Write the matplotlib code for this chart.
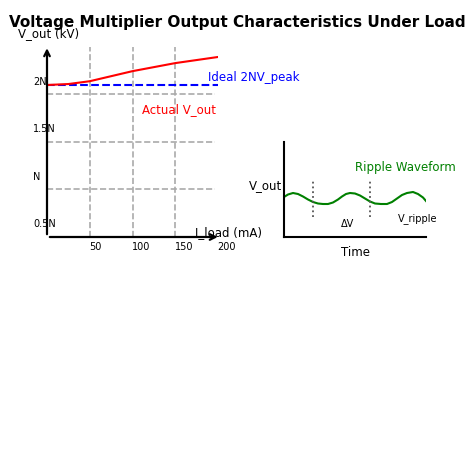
import matplotlib
matplotlib.use("Agg")
import matplotlib.pyplot as plt

# Main chart: load current (mA) vs output voltage (units of N)
grid_x_ma = [50, 100, 150]
grid_y_n = [0.6, 1.18, 1.776]
tick_x_labels = ["50", "100", "150", "200"]
tick_x_ma = [57, 110, 160, 210]
tick_y_labels = ["2N", "1.5N", "N", "0.5N"]
tick_y_n = [1.92, 1.34, 0.745, 0.16]
ideal_n = 1.888
actual_ma = [0, 25, 50, 100, 150, 200]
actual_n = [1.888, 1.9, 1.935, 2.06, 2.16, 2.236]

# Ripple waveform (relative time, relative voltage)
ripple_t = [0, 4, 9, 14, 19, 24, 29, 34, 39, 44, 49, 54, 58, 62, 66, 71, 76, 81, 86, 91,
            97, 103, 108, 113, 118, 123, 129, 134, 139, 142]
ripple_v = [1.5, 4, 5.5, 4.5, 2, -1, -3.5, -5, -5.5, -5.5, -4, -1, 2, 4.5, 5.5, 5, 3, 0, -3, -5,
            -5.5, -5.5, -3.5, 0, 3.5, 5.5, 6.5, 4.5, 1, -2.5]

fig = plt.figure(figsize=(4.74, 4.74), dpi=100)

# main axes: x 47..218 px for 0..200 mA ; y 237..47 px for 0..2.36 N
ax = fig.add_axes([47/474, (474-237)/474, (218-47)/474, (237-47)/474])
ax.set_xlim(0, 200); ax.set_ylim(0, 2.36)
ax.axis("off")
for g in grid_x_ma:
    ax.plot([g, g], [0, 2.36], ls="--", color="#aaaaaa", lw=1.2)
for g in grid_y_n:
    ax.plot([0, 196], [g, g], ls="--", color="#aaaaaa", lw=1.2)
ax.plot([0, 200], [ideal_n, ideal_n], ls="--", color="blue", lw=1.5)
ax.plot(actual_ma, actual_n, color="red", lw=1.5)
ax.annotate("", xy=(0, 2.38), xytext=(0, 0),
            arrowprops=dict(arrowstyle="->", lw=1.6, color="black"), annotation_clip=False)
ax.annotate("", xy=(203, 0), xytext=(0, 0),
            arrowprops=dict(arrowstyle="->", lw=1.6, color="black"), annotation_clip=False)
for t, l in zip(tick_x_ma, tick_x_labels):
    ax.text(t, -0.13, l, ha="center", va="center", fontsize=7)
for t, l in zip(tick_y_labels and tick_y_n, tick_y_labels):
    ax.text(-16, t, l, ha="left", va="center", fontsize=7)

# ripple inset: x 284..426 px, y 142..237 px
ax2 = fig.add_axes([284/474, (474-237)/474, (426-284)/474, (237-142)/474])
ax2.set_xlim(0, 142); ax2.set_ylim(-38.5, 56.5)
ax2.set_xticks([]); ax2.set_yticks([])
ax2.patch.set_visible(False)
for s in ["top", "right"]:
    ax2.spines[s].set_visible(False)
for s in ["left", "bottom"]:
    ax2.spines[s].set_linewidth(1.5)
ax2.plot(ripple_t, ripple_v, color="green", lw=1.5)
for xv in [29, 86]:
    ax2.plot([xv, xv], [-18.5, 18.5], ls=":", color="#555555", lw=1.3)

bg = fig.add_axes([0, 0, 1, 1])
bg.set_xlim(0, 474); bg.set_ylim(474, 0); bg.axis("off")
bg.patch.set_visible(False)
bg.text(237, 22, "Voltage Multiplier Output Characteristics Under Load", ha="center", va="center",
        fontsize=11, fontweight="bold")
bg.text(18, 34, "V_out (kV)", ha="left", va="center", fontsize=8.5)
bg.text(195, 233, "I_load (mA)", ha="left", va="center", fontsize=8.5)
bg.text(208, 77, "Ideal 2NV_peak", ha="left", va="center", fontsize=8.5, color="blue")
bg.text(142, 110, "Actual V_out", ha="left", va="center", fontsize=8.5, color="red")
bg.text(355, 167, "Ripple Waveform", ha="left", va="center", fontsize=8.5, color="green")
bg.text(249, 186, "V_out", ha="left", va="center", fontsize=8.5)
bg.text(348, 224, "ΔV", ha="center", va="center", fontsize=7)
bg.text(398, 219, "V_ripple", ha="left", va="center", fontsize=7)
bg.text(356, 252, "Time", ha="center", va="center", fontsize=8.5)

fig.savefig("out.png", dpi=100)
